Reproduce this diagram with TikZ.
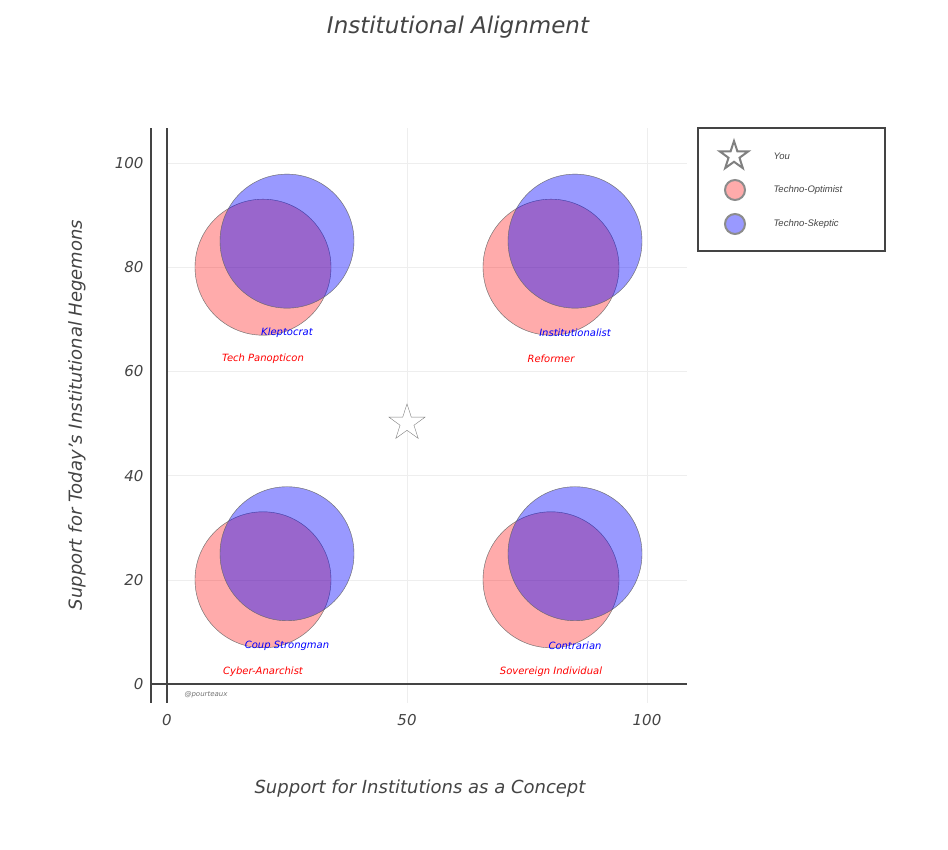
\documentclass[tikz,border=0pt]{standalone}
\usepackage{fontspec}
\setmainfont{DejaVu Sans}
\newfontfamily\legf{Liberation Sans}
\usetikzlibrary{shapes.geometric}
\definecolor{txt}{HTML}{444444}
\definecolor{grid}{HTML}{EEEEEE}
\definecolor{redc}{HTML}{FF0000}
\definecolor{bluc}{HTML}{0000FF}
\begin{document}
\begin{tikzpicture}[x=1pt,y=1pt,
  lab/.style={font=\fontsize{10}{12}\selectfont\itshape},
  tick/.style={font=\fontsize{15}{18}\selectfont\itshape,text=txt},
  redb/.style={fill=red!100!white,fill opacity=0.33,draw=black!60,draw opacity=0.6},
  blub/.style={fill=blue,fill opacity=0.4,draw=black!60,draw opacity=0.6},
  leg/.style={font=\legf\fontsize{9.5}{11}\selectfont\itshape,text=txt,anchor=west}]
\useasboundingbox (0,0) rectangle (948,850);
\fill[white] (0,0) rectangle (948,850);
% grid
\foreach \yy in {20,40,60,80,100} \draw[grid] (167,{166+5.21*\yy}) -- (687,{166+5.21*\yy});
\foreach \xx in {50,100} \draw[grid] ({167+4.8*\xx},147) -- ({167+4.8*\xx},722);
% bubbles
\foreach \cx/\cy in {20/80,80/80,20/20,80/20}{
  \fill[redb] ({167+4.8*\cx},{166+5.21*\cy}) circle (68);
  \draw[black!60,opacity=0.6] ({167+4.8*\cx},{166+5.21*\cy}) circle (68);
}
\foreach \cx/\cy in {25/85,85/85,25/25,85/25}{
  \fill[blub] ({167+4.8*\cx},{166+5.21*\cy}) circle (67);
  \draw[black!60,opacity=0.6] ({167+4.8*\cx},{166+5.21*\cy}) circle (67);
}
% axes
\draw[txt,line width=1.5pt] (151,147) -- (151,722);
\draw[txt,line width=1.5pt] (167,147) -- (167,722);
\draw[txt,line width=1.5pt] (151,166) -- (687,166);
% labels
\node[lab,text=bluc] (k) at (287,517) {Kleptocrat};
\node[lab,text=redc] (tp) at (263,491) {Tech Panopticon};
\node[lab,text=bluc] (in) at (575,517) {Institutionalist};
\node[lab,text=redc] (rf) at (551,491) {Reformer};
\node[lab,text=bluc] (cs) at (287,204) {Coup Strongman};
\node[lab,text=redc] (ca) at (263,178) {Cyber-Anarchist};
\node[lab,text=bluc] (ct) at (575,204) {Contrarian};
\node[lab,text=redc] (si) at (551,178) {Sovereign Individual};
\node[font=\fontsize{7}{8}\selectfont\itshape,text=black!55,anchor=west] (pt) at (181,155) {@pourteaux};
% star
\node[star,star points=5,star point ratio=2.6,minimum size=38pt,draw=black!50,fill=white,inner sep=0pt] (you) at (407,427) {};
% ticks
\foreach \yy in {0,20,40,60,80,100} \node[tick,anchor=east] at (147,{166+5.21*\yy}) {\yy};
\foreach \xx in {0,50,100} \node[tick] at ({167+4.8*\xx},130) {\xx};
% titles
\node[font=\fontsize{23}{26}\selectfont\itshape,text=txt] (title) at (458,823) {Institutional Alignment};
\node[font=\fontsize{18}{22}\selectfont\itshape,text=txt] (xl) at (420,61) {Support for Institutions as a Concept};
\node[font=\fontsize{18}{22}\selectfont\itshape,text=txt,rotate=90] (yl) at (77,435) {Support for Today's Institutional Hegemons};
% legend
\draw[txt,line width=1.2pt,fill=white] (698,599) rectangle (885,722);
\node[star,star points=5,star point ratio=2.6,minimum size=30pt,draw=black!50,line width=2pt,fill=white,inner sep=0pt] (ls) at (734,694) {};
\node[leg] (l1) at (770,694) {You};
\draw[black!45,line width=2pt,fill=red!33] (735,660) circle (10);
\node[leg] (l2) at (770,660) {Techno-Optimist};
\draw[black!45,line width=2pt,fill=blue!40] (735,626) circle (10);
\node[leg] (l3) at (770,626) {Techno-Skeptic};
\end{tikzpicture}
\end{document}
